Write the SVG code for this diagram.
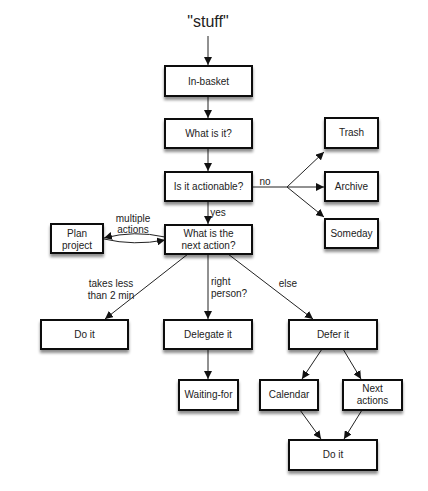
<svg xmlns="http://www.w3.org/2000/svg" width="428" height="491" viewBox="0 0 428 491">
<defs>
<filter id="sh" x="-20%" y="-20%" width="150%" height="160%">
<feGaussianBlur in="SourceAlpha" stdDeviation="1.5"/>
<feOffset dx="0" dy="2.5" result="b"/>
<feComponentTransfer><feFuncA type="linear" slope="0.45"/></feComponentTransfer>
<feMerge><feMergeNode/><feMergeNode in="SourceGraphic"/></feMerge>
</filter>
<marker id="ah" viewBox="0 0 10 10" refX="10" refY="5" markerWidth="8" markerHeight="8" markerUnits="userSpaceOnUse" orient="auto">
<path d="M0,0 L10,5 L0,10 z" fill="#111"/>
</marker>
</defs>
<style>
.box rect{fill:#fff;stroke:#111;stroke-width:2;filter:url(#sh)}
text{font-family:"Liberation Sans",Arial,sans-serif;font-size:10px;fill:#222;text-anchor:middle}
.c{fill:none;stroke:#222;stroke-width:1;marker-end:url(#ah)}
.l{fill:none;stroke:#222;stroke-width:1}
</style>
<rect width="428" height="491" fill="#fff"/>
<text x="208" y="27" style="font-size:16px">"stuff"</text>
<g id="connectors">
<line class="c" x1="208" y1="36" x2="208" y2="65"/>
<line class="c" x1="208" y1="96" x2="208" y2="118"/>
<line class="c" x1="208" y1="148" x2="208" y2="171"/>
<line class="c" x1="208" y1="201" x2="208" y2="224"/>
<line class="l" x1="252" y1="187" x2="287" y2="187"/>
<line class="c" x1="287" y1="187" x2="324" y2="152"/>
<line class="c" x1="287" y1="187" x2="324" y2="187"/>
<line class="c" x1="287" y1="187" x2="324" y2="217"/>
<path class="c" d="M165,237 Q134,230 104,238"/>
<path class="c" d="M104,239 Q134,246 165,240"/>
<line class="c" x1="188" y1="254" x2="105" y2="319"/>
<line class="c" x1="208" y1="254" x2="208" y2="319"/>
<line class="c" x1="228" y1="254" x2="313" y2="319"/>
<line class="c" x1="208" y1="349" x2="208" y2="379"/>
<line class="c" x1="322" y1="349" x2="302" y2="379"/>
<line class="c" x1="343" y1="349" x2="361" y2="379"/>
<line class="c" x1="300" y1="410" x2="321" y2="439"/>
<line class="c" x1="362" y1="410" x2="344" y2="439"/>
<text x="265" y="185">no</text>
<text x="218" y="216">yes</text>
<text x="133" y="222">multiple</text>
<text x="133" y="233">actions</text>
<text x="111" y="287">takes less</text>
<text x="111" y="299">than 2 min</text>
<text x="211" y="285" style="text-anchor:start">right</text>
<text x="211" y="297" style="text-anchor:start">person?</text>
<text x="288" y="287">else</text>
</g>
<g id="inbasket" class="box"><rect x="165" y="66" width="87" height="30"/><text x="208.5" y="85">In-basket</text></g>
<g id="whatisit" class="box"><rect x="165" y="119" width="87" height="29"/><text x="208.5" y="137">What is it?</text></g>
<g id="actionable" class="box"><rect x="165" y="172" width="87" height="29"/><text x="208.5" y="190">Is it actionable?</text></g>
<g id="nextaction" class="box"><rect x="165" y="225" width="87" height="29"/><text x="208.5" y="237">What is the</text><text x="208.5" y="249">next action?</text></g>
<g id="trash" class="box"><rect x="325" y="118" width="53" height="30"/><text x="351.5" y="136">Trash</text></g>
<g id="archive" class="box"><rect x="325" y="172" width="53" height="29"/><text x="351.5" y="190">Archive</text></g>
<g id="someday" class="box"><rect x="325" y="219" width="53" height="29"/><text x="351.5" y="237">Someday</text></g>
<g id="plan" class="box"><rect x="51" y="224" width="52" height="29"/><text x="77" y="237">Plan</text><text x="77" y="249">project</text></g>
<g id="doit1" class="box"><rect x="41" y="320" width="87" height="29"/><text x="84.5" y="338">Do it</text></g>
<g id="delegate" class="box"><rect x="164" y="320" width="88" height="29"/><text x="208" y="338">Delegate it</text></g>
<g id="defer" class="box"><rect x="289" y="320" width="88" height="29"/><text x="333" y="338">Defer it</text></g>
<g id="waiting" class="box"><rect x="179" y="380" width="59" height="30"/><text x="208.5" y="398">Waiting-for</text></g>
<g id="calendar" class="box"><rect x="260" y="380" width="58" height="30"/><text x="289" y="398">Calendar</text></g>
<g id="nextactions" class="box"><rect x="343" y="380" width="59" height="30"/><text x="372.5" y="392">Next</text><text x="372.5" y="404">actions</text></g>
<g id="doit2" class="box"><rect x="289" y="440" width="88" height="30"/><text x="333" y="458">Do it</text></g>
</svg>
